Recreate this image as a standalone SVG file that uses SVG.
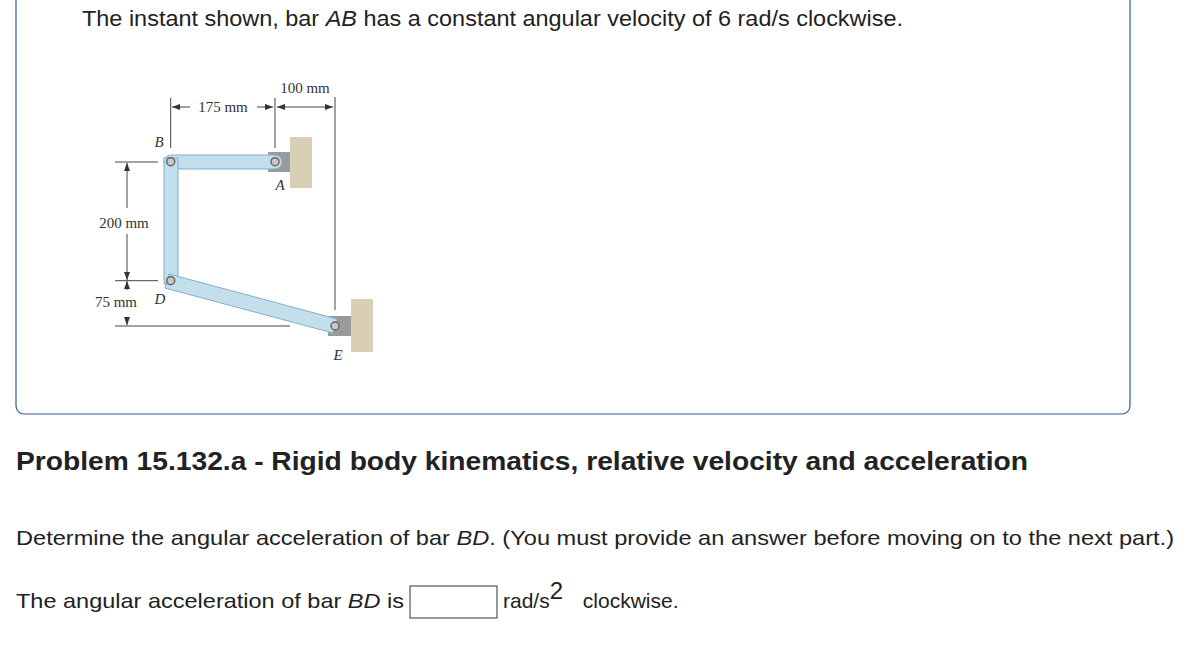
<svg xmlns="http://www.w3.org/2000/svg" width="1196" height="648" viewBox="0 0 1196 648">
<defs>
<style>
.t{font-family:"Liberation Sans",Arial,sans-serif;fill:#222}
.s{font-family:"Liberation Serif","Times New Roman",serif;fill:#333;font-size:15px}
.i{font-family:"Liberation Serif","Times New Roman",serif;fill:#333;font-size:15px;font-style:italic}
.bar{fill:#c4dfec;stroke:#7fb0c8;stroke-width:1}
.pin{fill:#c8c8c8;stroke:#666;stroke-width:1.5}
.dim{stroke:#444;stroke-width:1;fill:none}
.wall{fill:#d8cfb4}
.brk{fill:#9a9a9a}
</style>
<marker id="ar" viewBox="0 0 8 6" refX="8" refY="3" markerWidth="8" markerHeight="6" orient="auto-start-reverse"><path d="M0,0L8,3L0,6z" fill="#333"/></marker>
</defs>
<rect width="1196" height="648" fill="#fff"/>
<rect x="16" y="-10" width="1114" height="424" rx="8" fill="none" stroke="#2f5f8f" stroke-width="1.2"/>
<text class="t" x="82" y="26" font-size="22" textLength="821" lengthAdjust="spacingAndGlyphs">The instant shown, bar <tspan font-style="italic">AB</tspan> has a constant angular velocity of 6 rad/s clockwise.</text>
<g id="walls">
<rect class="wall" x="290" y="137" width="22" height="51"/>
<rect class="wall" x="351" y="299" width="22" height="53"/>
<path class="brk" d="M268,152h22v20h-22z"/>
<path class="brk" d="M328,316h23v20h-23z"/>
</g>
<g id="bars">
<g id="bar-AB"><rect class="bar" x="164" y="155" width="118" height="14" rx="7"/></g>
<g id="bar-BD"><rect class="bar" x="164" y="158" width="14" height="126"/></g>
<g id="bar-DE"><path class="bar" d="M169,274 L337,319 L333,333 L165,288 Z"/></g>
</g>
<g id="pins">
<circle class="pin" cx="170.7" cy="161.7" r="4"/>
<circle class="pin" cx="275" cy="161.7" r="4"/>
<circle class="pin" cx="170.7" cy="280.7" r="4"/>
<circle class="pin" cx="335" cy="326" r="4"/>
</g>
<g id="connectors">
<path class="dim" d="M170.7,98V148M275,98V148M335,97V310"/>
<path class="dim" d="M172,107H190" marker-start="url(#ar)"/>
<path class="dim" d="M257,107H273" marker-end="url(#ar)"/>
<path class="dim" d="M277,107H333" marker-start="url(#ar)" marker-end="url(#ar)"/>
<path class="dim" d="M115,162H158M115,280.7H158M115,326H290"/>
<path class="dim" d="M127,163V208" marker-start="url(#ar)"/>
<path class="dim" d="M127,234V280" marker-end="url(#ar)"/>
<path class="dim" d="M127,290V281" marker-end="url(#ar)"/>
<path class="dim" d="M127,317V325" marker-end="url(#ar)"/>
</g>
<g id="labels">
<text class="s" x="223" y="112" text-anchor="middle">175 mm</text>
<text class="s" x="305" y="93" text-anchor="middle">100 mm</text>
<text class="s" x="124" y="228" text-anchor="middle">200 mm</text>
<text class="s" x="116" y="307" text-anchor="middle">75 mm</text>
<text class="i" x="159" y="147" text-anchor="middle">B</text>
<text class="i" x="280" y="190" text-anchor="middle">A</text>
<text class="i" x="160" y="304" text-anchor="middle">D</text>
<text class="i" x="338" y="360" text-anchor="middle">E</text>
</g>
<text class="t" x="16" y="470" font-size="26" font-weight="bold" textLength="1012" lengthAdjust="spacingAndGlyphs">Problem 15.132.a - Rigid body kinematics, relative velocity and acceleration</text>
<text class="t" x="16" y="545" font-size="21" textLength="1158" lengthAdjust="spacingAndGlyphs">Determine the angular acceleration of bar <tspan font-style="italic">BD</tspan>. (You must provide an answer before moving on to the next part.)</text>
<text class="t" x="16" y="608" font-size="21" textLength="388" lengthAdjust="spacingAndGlyphs">The angular acceleration of bar <tspan font-style="italic">BD</tspan> is</text>
<rect x="410" y="586" width="87" height="32" fill="#fff" stroke="#333" stroke-width="1"/>
<text class="t" x="503" y="608" font-size="21">rad/s<tspan font-size="24" dy="-9">2</tspan><tspan dy="9" x="577"> clockwise.</tspan></text>
</svg>
